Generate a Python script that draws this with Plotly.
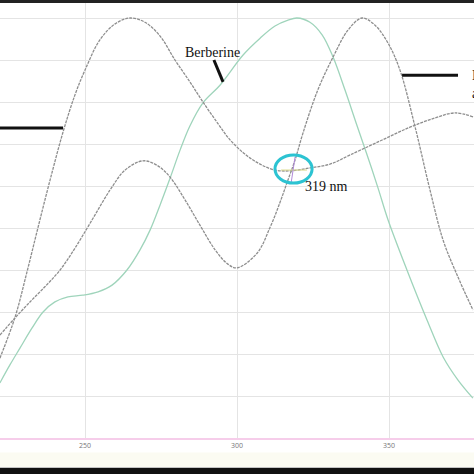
import plotly.graph_objects as go

# wavelength (nm) / absorbance
wl_a = [222.0, 227.0, 230.9, 234.5, 238.5, 242.8, 246.7, 250.0, 254.9, 259.9,
        264.8, 269.7, 274.7, 279.6, 284.5, 288.8, 293.8, 297.7, 302.6, 307.6,
        312.5, 317.4, 324.0, 330.6, 337.2, 347.0, 356.9, 365.1, 371.7, 378.0]
abs_a = [0.190, 0.288, 0.395, 0.500, 0.614, 0.729, 0.817, 0.876, 0.948, 0.986,
         1.000, 0.990, 0.957, 0.900, 0.848, 0.800, 0.748, 0.710, 0.676, 0.652,
         0.638, 0.636, 0.643, 0.652, 0.674, 0.707, 0.740, 0.762, 0.774, 0.764]

wl_b = [222.0, 227.0, 231.9, 236.8, 241.8, 246.7, 252.3, 258.2, 263.2, 269.1,
        274.0, 278.0, 282.9, 287.8, 292.8, 297.0, 300.0, 306.6, 310.9, 314.1,
        316.4, 319.1, 321.7, 326.6, 331.6, 336.5, 341.1, 345.4, 349.7, 353.6,
        358.6, 363.5, 367.8, 372.4, 377.6]
abs_b = [0.245, 0.286, 0.324, 0.360, 0.400, 0.452, 0.519, 0.590, 0.638, 0.660,
         0.648, 0.621, 0.567, 0.507, 0.448, 0.414, 0.405, 0.440, 0.502, 0.560,
         0.607, 0.662, 0.726, 0.829, 0.907, 0.971, 1.000, 0.983, 0.940, 0.876,
         0.740, 0.590, 0.471, 0.388, 0.305]

wl_berb = [222.0, 225.3, 228.6, 232.6, 236.2, 240.1, 244.4, 249.3, 254.3, 258.9,
           263.8, 268.1, 271.4, 274.7, 278.0, 281.3, 284.5, 288.8, 294.4, 302.0,
           307.6, 312.5, 316.8, 319.7, 324.0, 328.0, 331.6, 335.5, 339.1, 342.8,
           346.4, 349.7, 355.9, 362.5, 367.8, 372.7, 377.6]
abs_berb = [0.131, 0.174, 0.214, 0.262, 0.300, 0.324, 0.336, 0.340, 0.348, 0.364,
            0.400, 0.448, 0.495, 0.555, 0.619, 0.686, 0.743, 0.798, 0.840, 0.912,
            0.952, 0.981, 0.995, 1.000, 0.990, 0.960, 0.907, 0.829, 0.752, 0.674,
            0.595, 0.519, 0.400, 0.281, 0.193, 0.138, 0.095]

x_ticks = [250, 300, 350]
x_labels = ["250", "300", "350"]

fig = go.Figure()
fig.add_trace(go.Scatter(x=wl_berb, y=abs_berb, mode="lines", line_shape="spline",
                         line=dict(color="#9fd4bb", width=1.3)))
fig.add_trace(go.Scatter(x=wl_a, y=abs_a, mode="lines", line_shape="spline",
                         line=dict(color="#8e8e8e", width=1.3, dash="3px,1px")))
fig.add_trace(go.Scatter(x=wl_b, y=abs_b, mode="lines", line_shape="spline",
                         line=dict(color="#8e8e8e", width=1.3, dash="3px,1px")))

serif = dict(family="Liberation Serif", size=14, color="#111")
fig.add_annotation(x=291.8, y=0.919, text="Berberine", showarrow=False, font=serif)
fig.add_annotation(x=321.7, y=0.598, text="319 nm", showarrow=False, font=serif,
                   xanchor="left")
fig.add_annotation(x=376.6, y=0.864, text="N", showarrow=False, font=serif,
                   xanchor="left")
fig.add_annotation(x=376.6, y=0.821, text="a", showarrow=False, font=serif,
                   xanchor="left")

# pointers
fig.add_shape(type="line", x0=222.0, x1=242.8, y0=0.738, y1=0.738,
              line=dict(color="#111", width=3))
fig.add_shape(type="line", x0=354.3, x1=372.7, y0=0.864, y1=0.864,
              line=dict(color="#111", width=3))
fig.add_shape(type="line", x0=292.4, x1=295.4, y0=0.900, y1=0.848,
              line=dict(color="#111", width=3))
# isosbestic marker
fig.add_shape(type="line", x0=314.5, x1=323.0, y0=0.638, y1=0.638,
              line=dict(color="#d9d98a", width=1))
fig.add_shape(type="line", x0=319.1, x1=317.8, y0=0.669, y1=0.607,
              line=dict(color="#b08ad8", width=1))
fig.add_shape(type="circle", x0=312.5, x1=324.7, y0=0.607, y1=0.674,
              line=dict(color="#2cc3d2", width=3))

# frame bits of the screenshot
fig.add_shape(type="rect", xref="paper", yref="paper", x0=0, x1=1, y0=-0.066, y1=-0.033,
              fillcolor="#fbfbf2", line_width=0, layer="below")
fig.add_shape(type="rect", xref="paper", yref="paper", x0=0, x1=1, y0=-0.085, y1=-0.068,
              fillcolor="#111", line_width=0)
fig.add_shape(type="rect", xref="paper", yref="paper", x0=0, x1=1, y0=0.993, y1=1.01,
              fillcolor="#222", line_width=0)

fig.update_layout(
    width=474, height=474,
    margin=dict(l=0, r=0, t=0, b=36),
    plot_bgcolor="white", paper_bgcolor="white",
    showlegend=False,
)
fig.update_xaxes(range=[222.04, 377.96], tickvals=x_ticks, ticktext=x_labels,
                 showgrid=True, gridcolor="#e4e4e4", gridwidth=1,
                 showline=True, linecolor="#f6cdea", linewidth=2,
                 ticks="", tickfont=dict(size=7, color="#777"), zeroline=False)
fig.update_yaxes(range=[0, 1.0429], dtick=0.1, showgrid=True, gridcolor="#e4e4e4",
                 gridwidth=1, showticklabels=False, zeroline=False)

fig.write_html("out.html", config={"displayModeBar": False},
               post_script="document.body.style.margin='0px';")
